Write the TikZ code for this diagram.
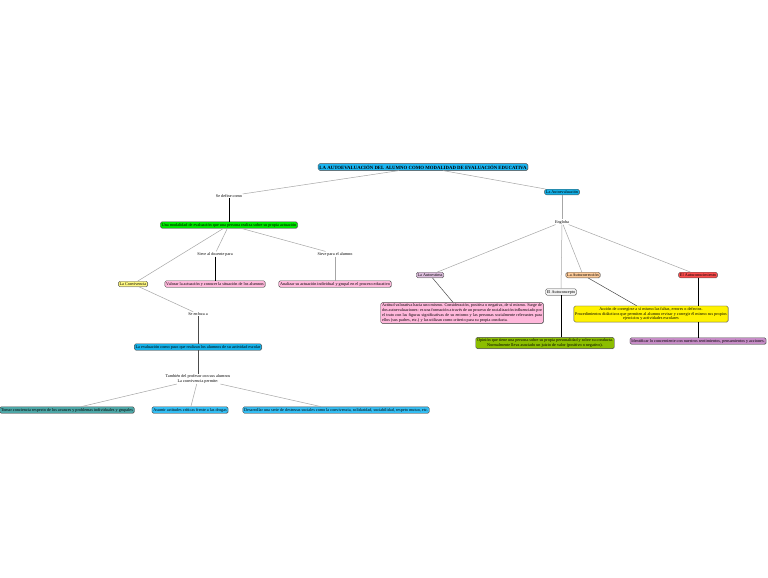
\documentclass[tikz,border=0pt]{standalone}
\usepackage{fontspec}
\setmainfont{Liberation Serif}
\usetikzlibrary{shadows}
\definecolor{sky}{RGB}{20,175,230}
\definecolor{olv}{RGB}{140,190,0}
\begin{document}
\begin{tikzpicture}[x=1pt,y=-1pt,
 box/.style={draw=black!70,rounded corners=1.5pt,inner sep=1.3pt,font=\fontsize{4.2}{4.8}\selectfont,align=center,drop shadow={shadow xshift=0.5pt,shadow yshift=-0.5pt,opacity=0.4}},
 lbl/.style={inner sep=0.5pt,font=\fontsize{4.2}{4.8}\selectfont,align=center},
 ln/.style={draw=gray!70,line width=0.5pt},
 thk/.style={draw=black,line width=0.9pt}]
\useasboundingbox (0,0) rectangle (768,578);
\fill[white] (0,0) rectangle (768,578);
\node[box,fill=cyan!90,font=\fontsize{4.8}{5.5}\selectfont\bfseries] (t) at (423,167) {LA AUTOEVALUACIÓN DEL ALUMNO COMO MODALIDAD DE EVALUACIÓN EDUCATIVA};
\node[lbl] (sd) at (229,196) {Se define como};
\node[box,fill=green!90!black] (g) at (229,225) {Una modalidad de evaluación que una persona realiza sobre su propia actuación};
\node[lbl] (sdp) at (215,254) {Sirve al docente para};
\node[lbl] (spa) at (335,254) {Sirve para el alumno};
\node[box,fill=yellow!50] (conv) at (133,284) {La Convivencia};
\node[box,fill=pink!80!magenta!70] (p1) at (215,284) {Valorar la actuación y conocer la situación de los alumnos};
\node[box,fill=pink!80!magenta!70] (p2) at (335,284) {Analizar su actuación individual y grupal en el proceso educativo};
\node[lbl] (se) at (198,314) {Se enfoca a};
\node[box,fill=sky] (b) at (198,347) {La evaluación como paso que realizan los alumnos de su actividad escolar};
\node[lbl] (tam) at (198,379) {También del profesor con sus alumnos\\La convivencia permite:};
\node[box,fill=teal!70] (c1) at (67,410) {Tomar conciencia respecto de los avances y problemas individuales y grupales};
\node[box,fill=cyan!80] (c2) at (190,410) {Asumir actitudes críticas frente a las drogas};
\node[box,fill=cyan!80] (c3) at (336,410) {Desarrollar una serie de destrezas sociales como la convivencia, solidaridad, sociabilidad, respeto mutuo, etc.};
\node[box,fill=sky] (ae) at (562,192) {La Autoevaluación};
\node[lbl] (eng) at (562,222) {Engloba};
\node[box,fill=violet!25] (aes) at (430,275) {La Autoestima};
\node[box,fill=gray!10] (acp) at (561,292) {El Autoconcepto};
\node[box,fill=orange!40] (acr) at (583,275) {La Autocorrección};
\node[box,fill=red!70] (acn) at (698,275) {El Autoconocimiento};
\node[box,fill=pink!80!magenta!70,text width=160pt,align=justify] (pb) at (462,313) {Actitud valorativa hacia uno mismo. Consideración, positiva o negativa, de sí mismo. Surge de dos autoevaluaciones: es una formación a través de un proceso de socialización influenciado por el trato con las figuras significativas de su entorno y las personas socialmente relevantes para ellos (sus padres, etc.) y las utilizan como criterio para su propia conducta.};
\node[box,fill=olv] (ol) at (545,343) {Opinión que tiene una persona sobre su propia personalidad y sobre su conducta.\\Normalmente lleva asociado un juicio de valor (positivo o negativo).};
\node[box,fill=yellow] (yl) at (651,314) {Acción de corregirse a sí mismo las faltas, errores o defectos.\\Procedimientos didácticos que permiten al alumno revisar y corregir él mismo sus propios\\ejercicios y actividades escolares};
\node[box,fill=violet!45] (pu) at (698,341) {Identificar lo concerniente con nuestros sentimientos, pensamientos y acciones.};
\draw[ln] (t) -- (sd);
\draw[thk] (sd) -- (g);
\draw[ln] (g) -- (conv);
\draw[ln] (g) -- (sdp);
\draw[ln] (g) -- (spa);
\draw[thk] (sdp) -- (p1);
\draw[ln] (spa) -- (p2);
\draw[ln] (conv) -- (se);
\draw[thk,draw=black!70] (se) -- (b);
\draw[thk,draw=black!70] (b) -- (tam);
\draw[ln] (tam) -- (c1);
\draw[ln] (tam) -- (c2);
\draw[ln] (tam) -- (c3);
\draw[ln] (t) -- (ae);
\draw[ln] (ae) -- (eng);
\draw[ln] (eng) -- (aes);
\draw[ln] (eng) -- (acp);
\draw[ln] (eng) -- (acr);
\draw[ln] (eng) -- (acn);
\draw[ln,draw=black!70] (aes) -- (pb);
\draw[thk] (acp) -- (acp |- ol.north);
\draw[ln,draw=black!70] (acr) -- (yl);
\draw[thk] (acn) -- (acn |- yl.north);
\draw[thk] (acn |- yl.south) -- (pu);
\end{tikzpicture}
\end{document}
